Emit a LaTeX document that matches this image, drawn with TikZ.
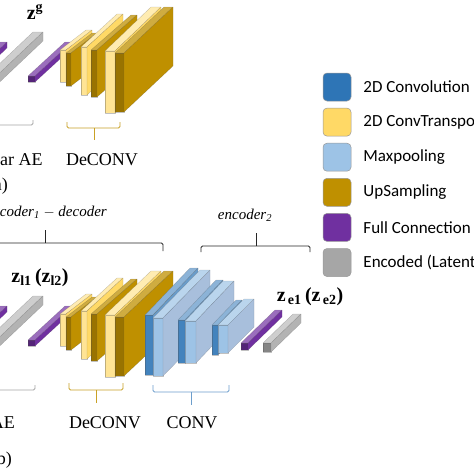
\documentclass[tikz,border=0pt]{standalone}
\usepackage{fontspec}
\setmainfont{Liberation Serif}
\newfontfamily\legendfont{Carlito}
\usepackage{tikz}
\usetikzlibrary{positioning}

\definecolor{convblue}{HTML}{2E75B6}
\definecolor{transyellow}{HTML}{FFD966}
\definecolor{poolblue}{HTML}{9DC3E6}
\definecolor{poolside}{HTML}{A8BFDC}
\definecolor{upgold}{HTML}{BF9000}
\definecolor{fcpurple}{HTML}{7030A0}
\definecolor{latentgray}{HTML}{A6A6A6}

% one layer as a thin box: x, bottom y, thickness, height, depth dx, depth dy, kind
\newcommand{\layerbox}[7]{%
  \filldraw[face, #7 front] (#1,#2) rectangle ++(#3,-#4);
  \filldraw[face, #7 top] (#1,#2-#4) -- ++(#3,0) -- ++(#5,-#6) -- ++(-#3,0) -- cycle;
  \filldraw[face, #7 side] (#1+#3,#2) -- ++(0,-#4) -- ++(#5,-#6) -- ++(0,#4) -- cycle;
}

\begin{document}
\begin{tikzpicture}[
  x=1pt, y=-1pt,
  face/.style={draw=black!70, draw opacity=0.35, line width=0.3pt, line join=round},
  yellow front/.style={fill=transyellow!70!white},
  yellow top/.style={fill=transyellow!50!white},
  yellow side/.style={fill=transyellow},
  gold front/.style={fill=upgold!80!black},
  gold top/.style={fill=upgold!75!white},
  gold side/.style={fill=upgold},
  conv front/.style={fill=convblue!90!white},
  conv top/.style={fill=convblue!55!white},
  conv side/.style={fill=convblue!72!white},
  pool front/.style={fill=poolblue},
  pool top/.style={fill=poolblue!70!white},
  pool side/.style={fill=poolside},
  fc front/.style={fill=fcpurple!75!black},
  fc top/.style={fill=fcpurple!70!white},
  fc side/.style={fill=fcpurple},
  latent front/.style={fill=latentgray!80!black},
  latent top/.style={fill=latentgray!55!white},
  latent side/.style={fill=latentgray!85!white},
  bracket/.style={line width=0.9pt, rounded corners=1.5pt},
  serif/.style={font=\fontsize{18}{20}\selectfont, inner sep=0pt},
  tag/.style={font=\itshape\fontsize{15}{18}\selectfont, inner sep=0pt},
  zlabel/.style={font=\fontsize{20}{22}\selectfont, inner sep=0pt},
  legendbox/.style={rectangle, rounded corners=4pt, minimum size=28pt,
    inner sep=0pt, draw=black!40, line width=0.5pt},
  legendtext/.style={font=\legendfont\fontsize{17}{20}\selectfont,
    inner sep=0pt, anchor=west}
]
  \useasboundingbox (0,0) rectangle (474,474);
  \fill[white] (0,0) rectangle (474,474);
  \clip (0,0) rectangle (474,474);

  % two rows of the same decoder part
  \foreach \row in {0,264} {
    \begin{scope}[shift={(0,\row)}]
      \layerbox{-40}{86}{7}{6}{40}{38}{fc}
      \layerbox{-24}{95}{10}{9}{57}{54}{latent}
      \layerbox{28}{82}{7}{6}{37}{34}{fc}
      \layerbox{60}{82}{6}{32}{26}{20}{yellow}
      \layerbox{66}{86}{5}{33}{26}{20}{gold}
      \layerbox{81}{95}{6}{48}{36}{33}{yellow}
      \layerbox{91}{97}{6}{47}{40}{35}{gold}
      \layerbox{105}{113}{10}{62}{46}{44}{yellow}
      \layerbox{115}{112}{9}{59}{49}{46}{gold}
    \end{scope}
  }

  % encoder part of the lower row
  \layerbox{145}{375}{8}{60}{45}{47}{conv}
  \layerbox{153}{376}{10}{58}{47}{48}{pool}
  \layerbox{178}{363}{7}{43}{38}{40}{conv}
  \layerbox{185}{363}{11}{42}{38}{40}{pool}
  \layerbox{212}{355}{6}{30}{24}{25}{conv}
  \layerbox{218}{353}{10}{28}{26}{26}{pool}
  \layerbox{241}{350}{7}{7}{34}{33}{fc}
  \layerbox{263}{352}{8}{9}{30}{29}{latent}

  % brackets
  \draw[bracket, latentgray] (-5,125) -- (33,125) -- (33,120);
  \draw[bracket, upgold!85!white] (67,122) -- (67,128) -- (120,128) -- (120,122);
  \draw[bracket, upgold!85!white] (94,128) -- (94,140);
  \draw[bracket, latentgray] (-5,390) -- (35,390) -- (35,385);
  \draw[bracket, upgold!85!white] (69,383) -- (69,390) -- (123,390) -- (123,383);
  \draw[bracket, upgold!85!white] (96,390) -- (96,403);
  \draw[bracket, convblue!70!white] (153,385) -- (153,392) -- (229,392) -- (229,385);
  \draw[bracket, convblue!70!white] (191,392) -- (191,405);
  \draw[bracket, black!85] (-5,243) -- (163,243) -- (163,251);
  \draw[bracket, black!85] (45,243) -- (45,230);
  \draw[bracket, black!85] (201,252) -- (201,246) -- (310,246) -- (310,252);
  \draw[bracket, black!85] (256,246) -- (256,233);

  % labels
  \node[zlabel] (zg) at (35,12) {\textbf{z}\textsuperscript{\textbf{g}}};
  \node[zlabel] (zl) at (40,278)
    {\textbf{z}\textsubscript{\textbf{l1}}\,\textbf{(z}\textsubscript{\textbf{l2}}\textbf{)}};
  \node[zlabel] (ze) at (310,297)
    {\textbf{z}\textsubscript{\,\textbf{e1}}\,\textbf{(z}\textsubscript{\,\textbf{e2}}\textbf{)}};
  \node[serif, anchor=west] (aetop) at (0,160) {ar AE};
  \node[serif] (deconvtop) at (102,160) {DeCONV};
  \node[serif, anchor=east] (parta) at (8,186) {(a)};
  \node[serif, anchor=east] (aebot) at (15,423) {AE};
  \node[serif] (deconvbot) at (105,423) {DeCONV};
  \node[serif] (convbot) at (192,423) {CONV};
  \node[serif, anchor=east] (partb) at (12,460) {(b)};
  \node[tag, anchor=east] (encdec) at (107,212) {encoder\textsubscript{1} $-$ decoder};
  \node[tag] (enctwo) at (245,215) {encoder\textsubscript{2}};

  % legend
  \node[legendbox, fill=convblue] (lconv) at (337,87) {};
  \node[legendbox, fill=transyellow, below=6.6pt of lconv] (ltrans) {};
  \node[legendbox, fill=poolblue, below=6.6pt of ltrans] (lpool) {};
  \node[legendbox, fill=upgold, below=6.6pt of lpool] (lup) {};
  \node[legendbox, fill=fcpurple, below=6.6pt of lup] (lfc) {};
  \node[legendbox, fill=latentgray, below=6.6pt of lfc] (llat) {};
  \node[legendtext, right=12pt of lconv] (tconv) {2D Convolution};
  \node[legendtext, right=12pt of ltrans] (ttrans) {2D ConvTranspose};
  \node[legendtext, right=12pt of lpool] (tpool) {Maxpooling};
  \node[legendtext, right=12pt of lup] (tup) {UpSampling};
  \node[legendtext, right=12pt of lfc] (tfc) {Full Connection};
  \node[legendtext, right=12pt of llat] (tlat) {Encoded (Latent)};
\end{tikzpicture}
\end{document}
